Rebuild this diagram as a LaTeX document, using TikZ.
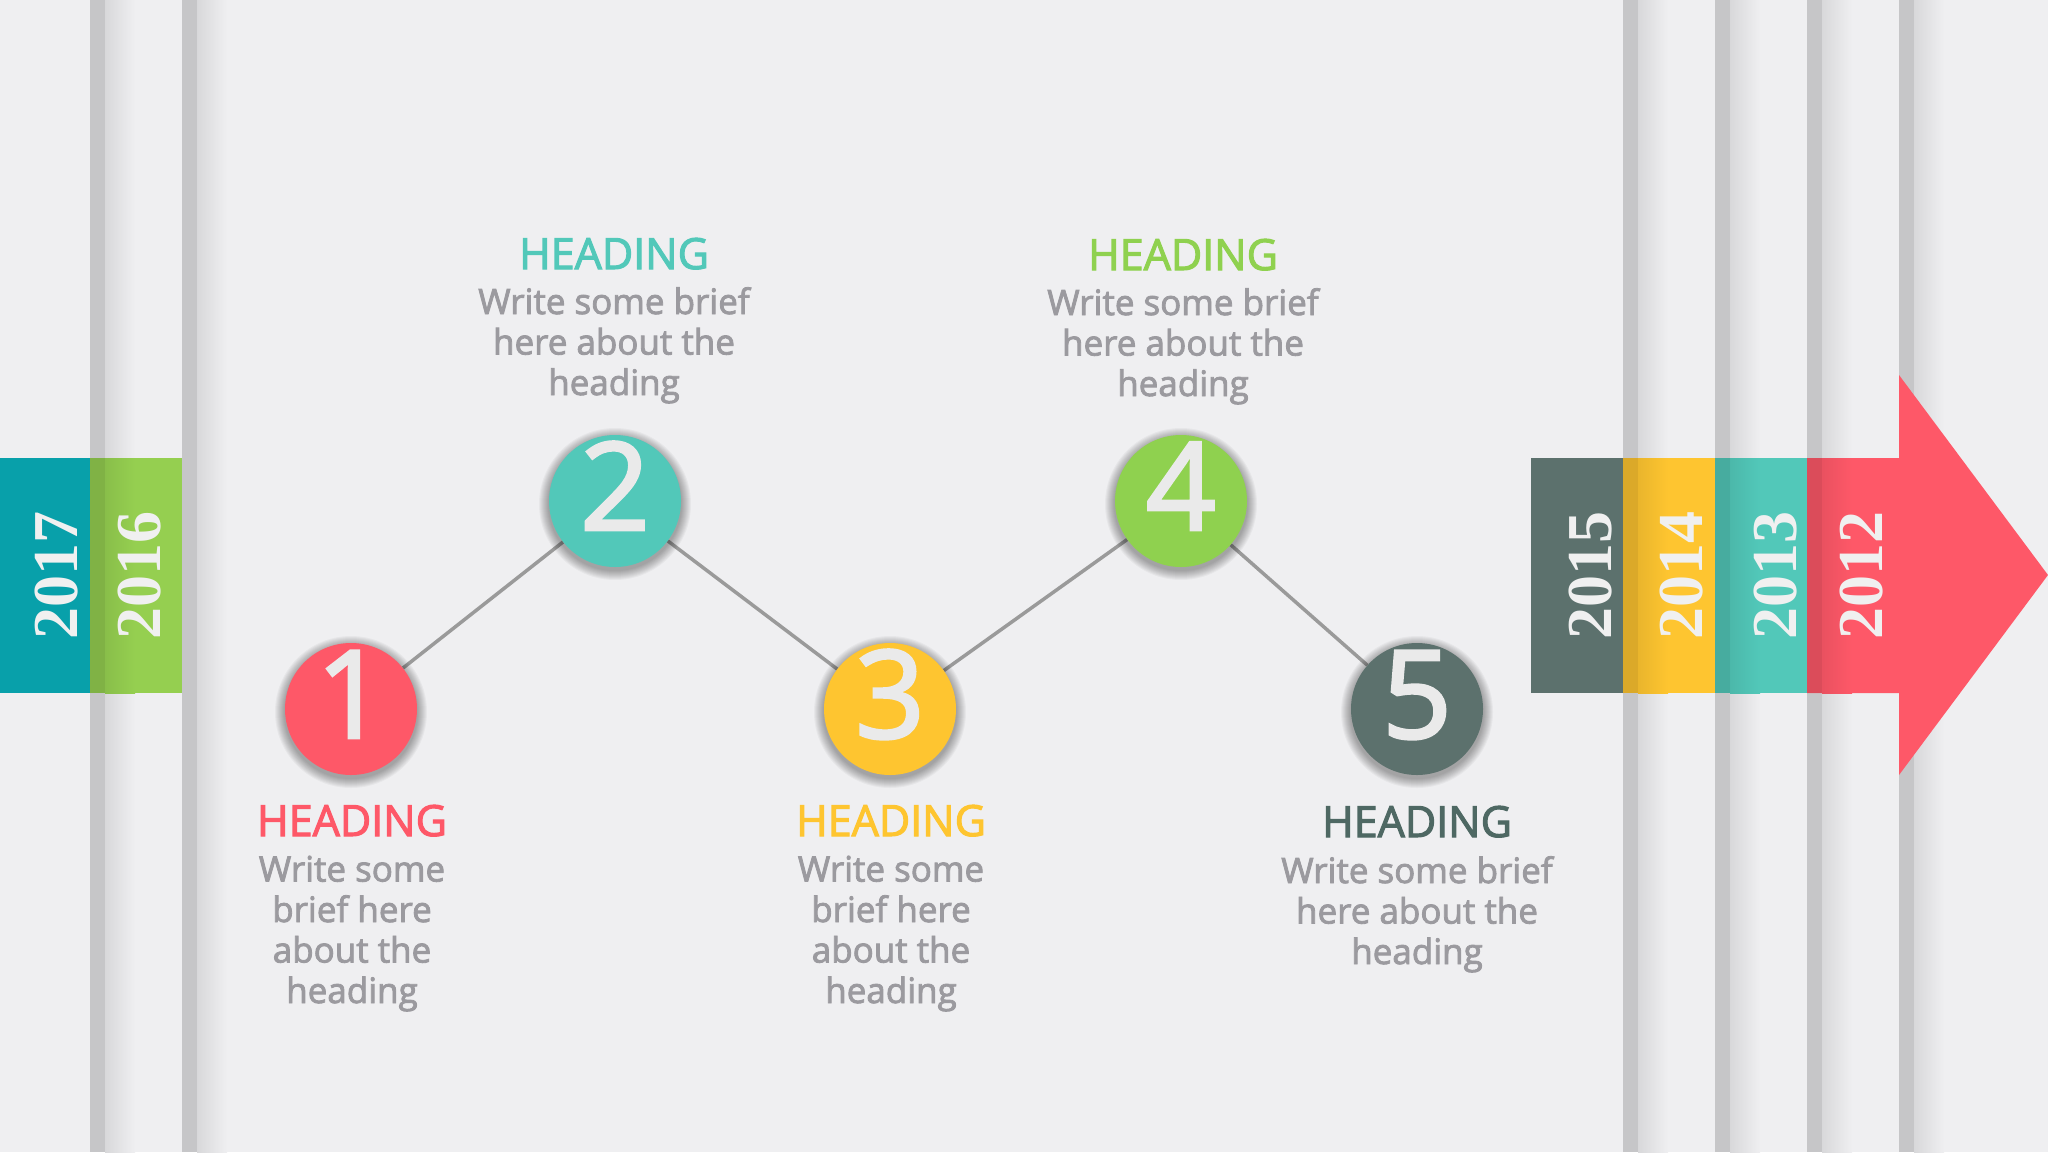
\documentclass[tikz,border=0pt]{standalone}
\usepackage{fontspec}
\setmainfont{Open Sans}[FakeBold=2.4]
\newfontfamily\numfont{Open Sans}[FakeBold=2.4]
\newfontfamily\yearfont{Liberation Serif}
\definecolor{bgc}{HTML}{EFEFF1}
\definecolor{stripedark}{HTML}{C6C6C8}
\definecolor{stripelight}{HTML}{D8D8DA}
\definecolor{redc}{HTML}{FE5868}
\definecolor{tealc}{HTML}{52C8B9}
\definecolor{yellowc}{HTML}{FEC530}
\definecolor{greenc}{HTML}{8FD14F}
\definecolor{greenb}{HTML}{95CF50}
\definecolor{slatec}{HTML}{5C716D}
\definecolor{slateh}{HTML}{4E6863}
\definecolor{tealdk}{HTML}{08A0AA}
\definecolor{numc}{HTML}{EAEAEA}
\definecolor{bodyc}{HTML}{9B9A9F}
\definecolor{linec}{HTML}{9A9A9A}
\definecolor{yearc}{HTML}{F0F0F0}
\pgfdeclarelayer{back}
\pgfdeclarelayer{mid}
\pgfsetlayers{back,mid,main}
\tikzset{
  circ/.style={circle, minimum size=132pt, inner sep=0pt, fill=#1},
  numtxt/.style={text=numc, font=\numfont\fontsize{122}{122}\selectfont, inner sep=0pt, anchor=base},
  head/.style={text=#1, font=\fontsize{43}{43}\selectfont, inner sep=0pt, anchor=base},
  body/.style={text=bodyc, font=\fontsize{35}{40.5}\selectfont, align=center, inner sep=0pt, anchor=base},
  year/.style={text=yearc, font=\yearfont\bfseries\fontsize{64}{64}\selectfont, rotate=90, inner sep=0pt},
  conn/.style={draw=linec, line width=3.5pt},
}
\newcommand\bgstripe[1]{%
  \fill[stripedark] (#1,0) rectangle (#1+15,1152);
  \shade[left color=stripelight, right color=bgc] (#1+15,0) rectangle (#1+45,1152);}
\newcommand\blkstripe[2]{%
  \fill[#2!86!black] (#1,458) rectangle (#1+15,693);
  \shade[left color=#2!92!black, right color=#2] (#1+15,458) rectangle (#1+45,693);}
\newcommand\cshadow[2]{%
  \foreach \i in {1,...,10}{\fill[black,opacity=0.035] (#1,#2+3) circle [radius={66+\i}];}}
\begin{document}
\begin{tikzpicture}[x=1pt,y=-1pt]
\useasboundingbox (0,0) rectangle (2048,1152);
\begin{pgfonlayer}{back}
  \fill[bgc] (0,0) rectangle (2048,1152);
  \bgstripe{90}
  \bgstripe{182}
  \bgstripe{1623}
  \bgstripe{1715}
  \bgstripe{1807}
  \bgstripe{1899}
  % year blocks
  \fill[tealdk] (0,458) rectangle (90,693);
  \fill[greenb] (90,458) rectangle (182,693);
  \fill[slatec] (1531,458) rectangle (1623,693);
  \fill[yellowc] (1623,458) rectangle (1715,693);
  \fill[tealc] (1715,458) rectangle (1807,693);
  \fill[redc] (1807,458) -- (1899,458) -- (1899,375) -- (2048,575) -- (1899,775) -- (1899,693) -- (1807,693) -- cycle;
  \blkstripe{90}{greenb}
  \blkstripe{1623}{yellowc}
  \blkstripe{1715}{tealc}
  \blkstripe{1807}{redc}
\end{pgfonlayer}
% year labels
\node[year] (y17) at (57,575) {2017};
\node[year] (y16) at (140,575) {2016};
\node[year] (y15) at (1591,575) {2015};
\node[year] (y14) at (1682,575) {2014};
\node[year] (y13) at (1776,575) {2013};
\node[year] (y12) at (1862,575) {2012};
% circles
\node[circ=redc] (c1) at (351,709) {};
\node[circ=tealc] (c2) at (615,501) {};
\node[circ=yellowc] (c3) at (890,709) {};
\node[circ=greenc] (c4) at (1181,501) {};
\node[circ=slatec] (c5) at (1417,709) {};
\begin{pgfonlayer}{mid}
  \draw[conn] (c1) -- (c2);
  \draw[conn] (c2) -- (c3);
  \draw[conn] (c3) -- (c4);
  \draw[conn] (c4) -- (c5);
  \cshadow{351}{709}
  \cshadow{615}{501}
  \cshadow{890}{709}
  \cshadow{1181}{501}
  \cshadow{1417}{709}
\end{pgfonlayer}
\node[numtxt] (n1) at (351,738) {1};
\node[numtxt] (n2) at (615,530) {2};
\node[numtxt] (n3) at (890,738) {3};
\node[numtxt] (n4) at (1181,530) {4};
\node[numtxt] (n5) at (1417,738) {5};
% headings
\node[head=redc] (h1) at (352,836) {HEADING};
\node[head=tealc] (h2) at (614,269) {HEADING};
\node[head=yellowc] (h3) at (891,836) {HEADING};
\node[head=greenc] (h4) at (1183,270) {HEADING};
\node[head=slateh] (h5) at (1417,837) {HEADING};
% bodies (base anchor = baseline of last line)
\node[body] (b1) at (352,1003) {Write some\\brief here\\about the\\heading};
\node[body] (b2) at (614,395) {Write some brief\\here about the\\heading};
\node[body] (b3) at (891,1003) {Write some\\brief here\\about the\\heading};
\node[body] (b4) at (1183,396) {Write some brief\\here about the\\heading};
\node[body] (b5) at (1417,964) {Write some brief\\here about the\\heading};
\end{tikzpicture}
\end{document}
